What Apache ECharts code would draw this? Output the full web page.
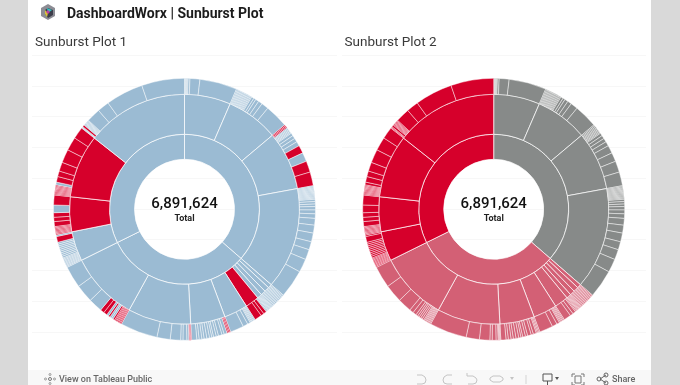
<!DOCTYPE html>
<html><head><meta charset="utf-8">
<style>html,body{margin:0;padding:0;background:#fff}#c{width:680px;height:385px}</style>
<script src="https://cdn.jsdelivr.net/npm/echarts@6/dist/echarts.min.js"></script>
</head><body><div id="c"></div>
<script>
// Values are leaf shares (degrees of the full 6,891,624 circle).
const leaves1=[.4,.4,.4,.4,.8,4.4,16.6];
const leaves2=[.5,.5,.5,.5,.5,.5,.5,.5,.5,.5,.5,.5,.5,.5,.5,1.1,1,1.5,1.8,3.2,10.4];
const leaves3=[.55,.55,.55,.5,.5,.5,.5,.5,.5,1.25,1.5,1.7,2,3.5,4,5,6.1];
const leaves4=[.5,.5,.5,.5,.5,.5,.5,.5,.5,.5,.5,.5,1,1.1,1.1,1.5,1.7,2,3,3.5,3.9,3.6,4.5,6,12.5];
const leaves5=[.5,.5,.5,.5];
const leaves6=[.5,.5,.5,.5,.5];
const leaves7=[.5,.5,.5,.5,.5];
const leaves8=[.4,.4,.4,.4,.4,.4];
const leaves9=[.5,.5,1.4,1.4,3.2];
const leaves10=[.5,.5,.5,.5,.5,1.3,2.2,6];
const leaves11=[.55,.55,.55,1.35,1,1.6,1,1.2,.8,1,1.2,1.2,1,1.2,1,2.3];
const leaves12=[.4,.4,.4,.9,1.7,1,4.6,5.9,16.6];
const leaves13=[.5,.5,.5,.5,.5,.5,.5,.8,.8,.8,.8,.9,1.6,1.8,6.2,8,9.7];
const leaves14=[.5,.5,.5,.5,.5,.5,.5,.5,.5,.8,.8,.8,.8,.8,.8,.8,.8,.8,2.6,.7];
const leaves15=[.53,.53,.53,.53,.53,.53,.53,2.2,1.9,2,3.4,4.4];
const leaves16=[.5,.5,.5,.5,.5,.5,.5,.5,.5,1.2,2.5,2.5,4,6,6,5.3];
const leaves17=[.4,.4,.9,.4,.4,.4,.4,.4,.4,.4,6.2,5.3,16.7,19];

// Branches of the tree: inner ring groups -> middle ring segments -> outer ring leaves
const grayBranch=[leaves1,leaves2,leaves3,leaves4];
const pinkBranch=[leaves5,leaves6,leaves7,leaves8,leaves9,leaves10,leaves11,leaves12,leaves13];
const redBranch=[leaves14,leaves15,leaves16,leaves17];

// Plot 1 highlights: which middle segments and which leaves are red
const plot1RedSegments=[leaves9,leaves15,leaves16];
const plot1RedLeaves=new Map([
 [leaves3,[0,1,2,13,15,16]],
 [leaves9,[2,3,4]],
 [leaves11,[0,1,2]],
 [leaves12,[0,1,2]],
 [leaves13,[0,1,2,3,4,5,6,7,10,12,13]],
 [leaves14,[18]],
 [leaves15,[0,1,2,3,4,5,6,7,8,9,11]],
 [leaves16,[0,1,2,3,4,5,6,7,8,10,11,12,13,14,15]],
 [leaves17,[2]]
]);

const BLUE='#9bbbd3',RED='#d6002b',GRAY='#878a89',PINK='#d36075';

function sunburst(cx,colorFor){
  const groups=[grayBranch,pinkBranch,redBranch];
  const data=groups.map((branch,g)=>({
    name:'g'+g,
    itemStyle:{color:colorFor(g,null,null)},
    children:branch.map(list=>({
      name:'s',
      itemStyle:{color:colorFor(g,list,null)},
      children:list.map((v,i)=>({name:'l',value:v,itemStyle:{color:colorFor(g,list,i)}}))
    }))
  }));
  return {
    type:'sunburst',center:[cx,209.3],radius:[50,131],sort:null,startAngle:90,
    nodeClick:false,silent:true,animation:false,
    label:{show:false},
    itemStyle:{borderColor:'#fff',borderWidth:.7},
    emphasis:{disabled:true},
    levels:[{},
      {r0:50,r:75,itemStyle:{borderWidth:.7}},
      {r0:75,r:115,itemStyle:{borderWidth:.7}},
      {r0:115,r:131,itemStyle:{borderWidth:.45}}],
    data
  };
}
const colorPlot1=(g,list,i)=>{
  if(list===null) return BLUE;
  if(i===null) return plot1RedSegments.includes(list)?RED:BLUE;
  const r=plot1RedLeaves.get(list);
  return r&&r.includes(i)?RED:BLUE;
};
const colorPlot2=(g)=>[GRAY,PINK,RED][g];

const FONT='Roboto';
const txt=(x,y,s,size,weight,color,align)=>({type:'text',x,y,z:20,silent:true,
  style:{text:s,font:`${weight} ${size}px ${FONT}`,fill:color,align:align||'left',verticalAlign:'middle'}});
const ico=(pts,color,lw)=>({type:'polyline',z:20,silent:true,shape:{points:pts,smooth:0},style:{fill:null,stroke:color,lineWidth:lw||1}});
const dot=(cx,cy,r,color)=>({type:'circle',z:20,silent:true,shape:{cx,cy,r},style:{fill:null,stroke:color,lineWidth:1}});
const arrow=(pts,color)=>({type:'polygon',z:20,silent:true,shape:{points:pts},style:{fill:color}});

const chart=echarts.init(document.getElementById('c'),null,{renderer:'canvas'});
chart.setOption({
  animation:false,
  backgroundColor:'#fff',
  grid:[{left:32,width:305,top:55,height:277},{left:342,width:304,top:55,height:277}],
  xAxis:[{gridIndex:0,type:'value',min:0,max:1,show:false},{gridIndex:1,type:'value',min:0,max:1,show:false}],
  yAxis:[0,1].map(i=>({gridIndex:i,type:'value',min:0,max:9,interval:1,
    axisLine:{show:false},axisTick:{show:false},axisLabel:{show:false},
    splitLine:{show:true,lineStyle:{color:'#f7f7f7',width:1}}})),
  series:[sunburst(184.5,colorPlot1),sunburst(493.7,colorPlot2)],
  graphic:[
    {type:'rect',z:10,silent:true,shape:{x:0,y:0,width:28,height:385},style:{fill:'#d9d9d9'}},
    {type:'rect',z:10,silent:true,shape:{x:651,y:0,width:29,height:385},style:{fill:'#d9d9d9'}},
    {type:'rect',z:10,silent:true,shape:{x:28,y:370,width:623,height:15},style:{fill:'#f8f8f8'}},
    // logo
    {type:'polygon',z:20,silent:true,shape:{points:[[48,4],[55,8],[55,16],[48,20],[41,16],[41,8]]},style:{fill:'#8c8c94'}},
    {type:'polygon',z:21,silent:true,shape:{points:[[48,8],[53,10],[53,15],[48,18],[45,14],[45,10]]},style:{fill:'#3d3d4a'}},
    {type:'polygon',z:22,silent:true,shape:{points:[[47,8],[52,10],[48,13]]},style:{fill:'#2fc4c4'}},
    {type:'polygon',z:22,silent:true,shape:{points:[[45,10],[48,13],[47,17],[45,14]]},style:{fill:'#d8c73a'}},
    {type:'polygon',z:22,silent:true,shape:{points:[[48,10],[50,12],[48,14],[46,12]]},style:{fill:'#c23fa0'}},
    txt(67,14.5,'DashboardWorx | Sunburst Plot',14,700,'#1c1c1c'),
    txt(35,42.5,'Sunburst Plot 1',13.5,400,'#3a3a3a'),
    txt(344.5,42.5,'Sunburst Plot 2',13.5,400,'#3a3a3a'),
    txt(184.5,204.5,'6,891,624',15,500,'#111','center'),
    txt(184.5,218.5,'Total',9,700,'#222','center'),
    txt(493.7,204.5,'6,891,624',15,500,'#111','center'),
    txt(493.7,218.5,'Total',9,700,'#222','center'),
    txt(59,379.5,'View on Tableau Public',9,500,'#666'),
    txt(612,379.5,'Share',9,500,'#666'),
    // view icon
    dot(50,379,1.5,'#777'),dot(45.5,379,1,'#999'),dot(54.5,379,1,'#999'),dot(50,374.5,1,'#999'),dot(50,383.5,1,'#999'),
    // toolbar icons
    ico([[417,375],[422,375],[425,377],[426,380],[425,383],[422,384],[417,384]],'#c4c4c4'),
    ico([[452,375],[447,375],[444,377],[443,380],[444,383],[447,384],[452,384]],'#c4c4c4'),
    ico([[467,373],[467,376],[473,376],[476,378],[477,380],[476,383],[473,384],[468,384]],'#c4c4c4'),
    ico([[493,376],[500,376],[503,378],[503,380],[500,382],[493,382],[490,380],[490,378],[493,376]],'#c4c4c4'),
    arrow([[510,377],[514,377],[512,380]],'#c4c4c4'),
    ico([[526,375],[526,384]],'#d4d4d4'),
    ico([[543,374],[552,374],[552,381],[543,381],[543,374]],'#555'),
    ico([[547.5,381],[547.5,385]],'#555'),
    arrow([[555,377],[559,377],[557,380]],'#555'),
    ico([[575,374],[572,374],[572,377]],'#777'),ico([[581,374],[584,374],[584,377]],'#777'),
    ico([[575,385],[572,385],[572,382]],'#777'),ico([[581,385],[584,385],[584,382]],'#777'),
    ico([[575,376],[581,376],[581,383],[575,383],[575,376]],'#777'),
    ico([[606,375],[600,379],[606,383]],'#666'),
    dot(599,379,2,'#666'),dot(606,375,2,'#666'),dot(606,383,2,'#666')
  ]
});
</script></body></html>
